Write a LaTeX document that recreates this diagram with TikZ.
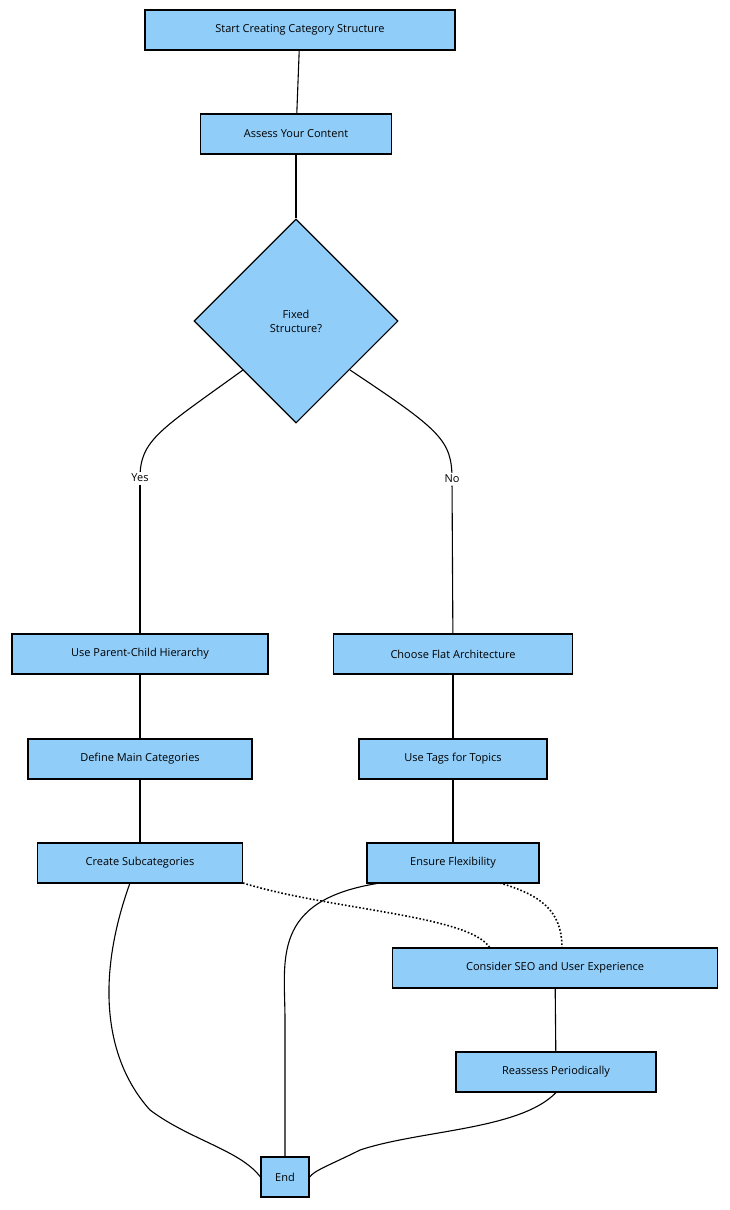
\documentclass[tikz,border=0pt]{standalone}
\usepackage{fontspec}
\setmainfont{Open Sans}
\usetikzlibrary{shapes.geometric}
\definecolor{boxblue}{HTML}{90CDF9}
\begin{document}
\begin{tikzpicture}[x=1pt,y=-1pt,
  box/.style={draw=black,line width=1.1pt,fill=boxblue,minimum height=40pt,font=\fontsize{11}{13}\selectfont,inner sep=0pt},
  dia/.style={diamond,draw=black,line width=1.1pt,fill=boxblue,minimum width=204pt,minimum height=204pt,aspect=1,inner sep=0pt,align=center,font=\fontsize{11}{14}\selectfont},
  line/.style={line width=1.1pt},
  dot/.style={line width=1.6pt,dotted},
  lbl/.style={fill=white,font=\fontsize{11}{13}\selectfont,inner sep=2pt}]
\useasboundingbox (0,0) rectangle (729,1210);
\node[box,minimum width=310pt] (start) at (300,30) {Start Creating Category Structure};
\node[box,minimum width=191pt] (assess) at (296,134) {Assess Your Content};
\node[dia] (fix) at (296,321) {Fixed\\Structure?};
\node[box,minimum width=256pt] (pc) at (140,654) {Use Parent-Child Hierarchy};
\node[box,minimum width=239pt] (flat) at (453,654) {Choose Flat Architecture};
\node[box,minimum width=224pt] (main) at (140,759) {Define Main Categories};
\node[box,minimum width=188pt] (tags) at (453,759) {Use Tags for Topics};
\node[box,minimum width=205pt] (sub) at (140,863) {Create Subcategories};
\node[box,minimum width=172pt] (ens) at (453,863) {Ensure Flexibility};
\node[box,minimum width=325pt] (seo) at (555,968) {Consider SEO and User Experience};
\node[box,minimum width=200pt] (re) at (556,1072) {Reassess Periodically};
\node[box,minimum width=48pt] (end) at (285,1177) {End};
\draw[line] (start) -- (assess);
\draw[line] (assess) -- (fix);
\draw[line] (fix.south west) ++(-0.5,0) coordinate (a);
\draw[line] (243,370) .. controls (160,430) and (140,440) .. (140,478) node[lbl] (yes) {Yes};
\draw[line] (yes) -- (pc);
\draw[line] (350,370) .. controls (440,430) and (452,440) .. (452,479) node[lbl] (no) {No};
\draw[line] (no) -- (flat);
\draw[line] (pc) -- (main);
\draw[line] (main) -- (sub);
\draw[line] (flat) -- (tags);
\draw[line] (tags) -- (ens);
\draw[line] (seo) -- (re);
\draw[line] (130,883) .. controls (95,980) and (105,1060) .. (150,1110) .. controls (190,1140) and (240,1150) .. (end.west);
\draw[line] (380,883) .. controls (270,900) and (285,960) .. (285,1020) -- (end.north);
\draw[line] (re.south) .. controls (520,1130) and (420,1130) .. (360,1150) .. controls (330,1165) and (315,1170) .. (end.east);
\draw[dot] (243,883) .. controls (330,910) and (470,915) .. (490,948);
\draw[dot] (500,883) .. controls (540,895) and (562,910) .. (562,948);
\end{tikzpicture}
\end{document}
